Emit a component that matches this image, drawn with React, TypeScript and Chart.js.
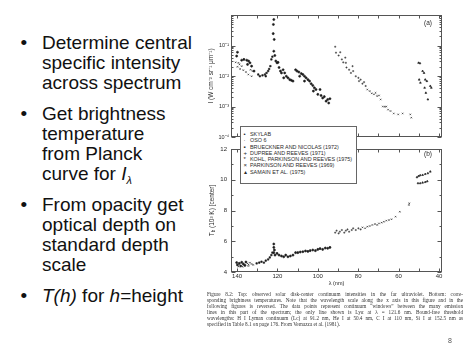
import React, { useEffect, useRef } from 'react';
import { Chart, registerables } from 'chart.js';

Chart.register(...registerables);

// ---------- axis ticks ----------
const xTicks = [140, 120, 100, 80, 60, 40];
const xMinorTicks = [130, 110, 90, 70, 50];
const topTicks = [1e-1, 1e-2, 1e-3, 1e-4];
const topTickLabels = ['10⁻¹', '10⁻²', '10⁻³', '10⁻⁴'];
const topDecades = [1e-4, 1e-3, 1e-2, 1e-1];
const bottomTicks = [4, 6, 8, 10, 12];
const bottomMinorTicks = [5, 7, 9, 11];

// ---------- series ----------
const seriesNames = [
  'SKYLAB',
  'OSO 6',
  'BRUECKNER AND NICOLAS (1972)',
  'DUPREE AND REEVES (1971)',
  'KOHL, PARKINSON AND REEVES (1975)',
  'PARKINSON AND REEVES (1969)',
  'SAMAIN ET AL. (1975)',
];
const legendMarks = ['•', '·', '▪', '+', '*', '×', '▴'];

// top panel: [wavelength nm, intensity W cm^-2 sr^-1 um^-1]
const skylabTop = [
  [139.8, 0.06], [140.2, 0.045], [137.7, 0.033], [136.6, 0.035], [135.2, 0.033], [134.3, 0.031],
  [133.6, 0.027], [134.8, 0.024], [132.8, 0.021], [131.6, 0.0145], [121.8, 0.71], [122.0, 0.49],
  [122.1, 0.245], [121.6, 0.158], [121.8, 0.065], [121.3, 0.047], [120.8, 0.031], [120.2, 0.027],
  [119.7, 0.028], [119.2, 0.019], [118.5, 0.0145], [118.0, 0.0126], [117.2, 0.016], [116.4, 0.0126],
  [116.9, 0.0087], [115.6, 0.0098], [114.8, 0.0087], [113.9, 0.0076], [113.1, 0.0072], [112.3, 0.0068],
];
const oso6Top = [
  [111.0, 0.016], [110.3, 0.0145], [109.4, 0.0135], [108.2, 0.012], [107.4, 0.0112], [109.0, 0.0098],
  [106.6, 0.0098], [105.8, 0.0087], [104.9, 0.0076], [104.1, 0.0068], [106.6, 0.0068], [103.3, 0.0056],
  [102.5, 0.0049], [101.7, 0.0041], [100.9, 0.0036], [102.2, 0.0032], [100.0, 0.0025], [98.9, 0.0036],
  [98.4, 0.0023], [97.6, 0.0019], [96.8, 0.0021], [95.9, 0.0015], [95.1, 0.0017], [94.0, 0.0018], [94.6, 0.0013],
];
const brueTop = [
  [129.5, 0.0112], [128.7, 0.0098], [127.4, 0.0105], [126.2, 0.0112], [125.4, 0.0126], [124.6, 0.0145],
  [124.1, 0.017], [125.8, 0.0098], [123.5, 0.021], [123.0, 0.035], [122.5, 0.043],
];
const dupreeTop = [
  [91.4, 0.091], [91.0, 0.058], [89.7, 0.047], [88.9, 0.06], [88.1, 0.035], [87.4, 0.028], [86.4, 0.04],
  [86.1, 0.027], [85.8, 0.019], [84.5, 0.016], [83.6, 0.0126], [82.8, 0.021], [82.5, 0.0145], [81.2, 0.0098],
  [79.9, 0.0087], [79.6, 0.0068], [78.8, 0.0076], [77.9, 0.0056], [77.1, 0.0063], [76.3, 0.0047],
];
const kohlTop = [
  [140.7, 0.028], [139.3, 0.027], [138.8, 0.024], [137.7, 0.021], [139.8, 0.02], [138.5, 0.017],
  [136.9, 0.0155], [135.6, 0.0135], [133.3, 0.016], [132.3, 0.0145], [134.4, 0.0112], [132.8, 0.0098],
];
const parkinsonTop = [
  [75.5, 0.0036], [74.3, 0.0032], [73.3, 0.0027], [72.2, 0.0025], [71.4, 0.0028], [70.6, 0.0022],
  [69.7, 0.0023], [68.9, 0.0017], [67.8, 0.001], [66.8, 0.00098], [66.1, 0.001], [65.2, 0.00079],
  [64.0, 0.00071], [62.4, 0.00059], [60.2, 0.00055], [58.0, 0.00059], [54.2, 0.00055], [53.7, 0.00043],
];
const samainTop = [
  [50.1, 0.027], [49.4, 0.026], [49.8, 0.0076], [49.2, 0.006], [48.1, 0.0145], [47.4, 0.0126],
  [47.1, 0.0041], [46.8, 0.0076], [46.0, 0.0068], [46.5, 0.0028], [45.5, 0.0017], [44.3, 0.0047], [43.8, 0.0041],
];

// bottom panel: [wavelength nm, brightness temperature 10^3 K]
const skylabBottom = [
  [140.2, 4.61], [139.8, 4.46], [138.9, 4.56], [138.2, 4.39], [137.7, 4.63], [136.9, 4.52], [136.1, 4.43],
  [135.6, 4.65], [121.8, 5.82], [121.8, 5.6], [121.5, 5.43], [121.8, 5.26], [121.2, 5.1], [120.2, 5.21],
  [119.2, 5.1], [118.0, 5.04], [116.9, 4.99], [115.9, 5.1], [114.8, 4.99], [113.6, 5.04], [112.3, 5.1],
];
const oso6Bottom = [
  [111.0, 5.26], [109.9, 5.26], [108.7, 5.3], [107.4, 5.32], [106.1, 5.37], [104.9, 5.34], [103.8, 5.39],
  [102.5, 5.43], [101.2, 5.39], [100.0, 5.47], [98.9, 5.52], [97.6, 5.47], [96.3, 5.56], [95.1, 5.54], [94.0, 5.6],
];
const brueBottom = [
  [130.3, 4.56], [129.0, 4.61], [127.9, 4.67], [126.7, 4.61], [125.8, 4.74], [124.6, 4.82], [123.8, 4.95],
  [123.0, 5.1], [122.5, 5.26],
];
const dupreeBottom = [
  [91.4, 6.56], [90.7, 6.69], [89.7, 6.51], [89.1, 6.62], [88.1, 6.73], [86.9, 6.56], [86.1, 6.69],
  [85.3, 6.77], [84.5, 6.62], [83.2, 6.73], [82.5, 6.84], [81.2, 6.73], [79.9, 6.84], [78.8, 6.77],
];
const kohlBottom = [
  [134.9, 4.56], [134.3, 4.48], [133.6, 4.61], [132.8, 4.52], [139.3, 4.35], [137.2, 4.35], [134.4, 4.39], [132.0, 4.46],
];
const parkinsonBottom = [
  [77.9, 6.9], [76.6, 6.84], [75.5, 6.95], [74.3, 6.99], [73.0, 7.06], [71.7, 7.12], [70.6, 7.06],
  [69.7, 7.16], [68.4, 7.21], [67.3, 7.27], [66.1, 7.34], [64.8, 7.38], [63.5, 7.43], [61.5, 7.6],
  [59.4, 7.92], [54.9, 8.36], [54.7, 8.47],
];
const samainBottom = [
  [50.9, 10.16], [50.1, 10.24], [49.3, 10.29], [48.1, 10.31], [46.8, 10.37], [45.5, 10.42], [44.3, 10.53],
  [50.4, 9.77], [49.3, 9.77], [48.1, 9.81], [46.8, 9.85], [45.8, 9.9],
];

const topSeries = [skylabTop, oso6Top, brueTop, dupreeTop, kohlTop, parkinsonTop, samainTop];
const bottomSeries = [skylabBottom, oso6Bottom, brueBottom, dupreeBottom, kohlBottom, parkinsonBottom, samainBottom];
const pointStyles = ['circle', 'circle', 'rect', 'cross', 'crossRot', 'crossRot', 'triangle'];

const captionLines = [
  'Figure 8.2: Top: observed solar disk-center continuum intensities in the far ultraviolet. Bottom: corre-',
  'sponding brightness temperatures. Note that the wavelength scale along the x axis in this figure and in the',
  'following figures is reversed. The data points represent continuum “windows” between the many emission',
  'lines in this part of the spectrum; the only line shown is Lyα at λ = 121.6 nm. Bound-free threshold',
  'wavelengths: H I Lyman continuum (Lc) at 91.2 nm, He I at 50.4 nm, C I at 110 nm, Si I at 152.5 nm as',
  'specified in Table 8.1 on page 176. From Vernazza et al. (1981).',
];

const SANS = '"Liberation Sans", Arial, Helvetica, sans-serif';
const INK = '#2a2a2a';
const X_MIN = 38.5;
const X_MAX = 143;

function makeFramePlugin(yMarks: [number, number][], label: string, labelDy: number) {
  return {
    id: 'frameTicks',
    afterDraw(chart: any) {
      const { ctx, chartArea: a, scales } = chart;
      ctx.save();
      ctx.strokeStyle = '#555';
      ctx.lineWidth = 1;
      const l = Math.round(a.left) + 0.5;
      const t = Math.round(a.top) + 0.5;
      const r = Math.round(a.right) - 0.5;
      const b = Math.round(a.bottom) - 0.5;
      ctx.strokeRect(l, t, r - l, b - t);
      ctx.beginPath();
      for (const v of [...xTicks, ...xMinorTicks]) {
        const px = Math.round(scales.x.getPixelForValue(v)) + 0.5;
        ctx.moveTo(px, t); ctx.lineTo(px, t + 3);
        ctx.moveTo(px, b); ctx.lineTo(px, b - 3);
      }
      for (const [v, len] of yMarks) {
        const py = Math.round(scales.y.getPixelForValue(v)) + 0.5;
        ctx.moveTo(l, py); ctx.lineTo(l + len, py);
        ctx.moveTo(r, py); ctx.lineTo(r - len, py);
      }
      ctx.stroke();
      ctx.fillStyle = INK;
      ctx.font = `6.5px ${SANS}`;
      ctx.textAlign = 'center';
      ctx.textBaseline = 'middle';
      ctx.fillText(label, a.right - 14, a.top + labelDy);
      ctx.restore();
    },
  };
}

const tbTitlePlugin = {
  id: 'tbTitle',
  afterDraw(chart: any) {
    const { ctx, chartArea: a } = chart;
    const big = `6.5px ${SANS}`;
    const small = `4.6px ${SANS}`;
    const rest = ' (10³ K) [center]';
    ctx.save();
    ctx.fillStyle = INK;
    ctx.translate(12, (a.top + a.bottom) / 2);
    ctx.rotate(-Math.PI / 2);
    ctx.textBaseline = 'middle';
    ctx.textAlign = 'left';
    ctx.font = big;
    const w1 = ctx.measureText('T').width;
    const w3 = ctx.measureText(rest).width;
    ctx.font = small;
    const w2 = ctx.measureText('b').width;
    let x = -(w1 + w2 + w3) / 2;
    ctx.font = big;
    ctx.fillText('T', x, 0);
    x += w1;
    ctx.font = small;
    ctx.fillText('b', x, 1.8);
    x += w2;
    ctx.font = big;
    ctx.fillText(rest, x, 0);
    ctx.restore();
  },
};

function buildDatasets(series: number[][][]) {
  return series.map((s, i) => ({
    label: seriesNames[i],
    data: s.map(([x, y]) => ({ x, y })),
    pointStyle: pointStyles[i],
    pointRadius: 1.05,
    pointHoverRadius: 1.05,
    backgroundColor: '#1a1a1a',
    borderColor: '#1a1a1a',
    borderWidth: 0.6,
  }));
}

function TopPanel() {
  const ref = useRef<HTMLCanvasElement>(null);
  useEffect(() => {
    if (!ref.current) return;
    const yMarks: [number, number][] = [[1, 4]];
    for (const d of topDecades) {
      yMarks.push([d, 4]);
      for (let k = 2; k <= 9; k++) yMarks.push([k * d, 2]);
    }
    const chart = new Chart(ref.current, {
      type: 'scatter',
      data: { datasets: buildDatasets(topSeries) as any },
      options: {
        responsive: false,
        animation: false,
        devicePixelRatio: 1,
        layout: { padding: { top: 10, right: 32, bottom: 8, left: 0 } },
        plugins: { legend: { display: false }, tooltip: { enabled: false } },
        scales: {
          x: { type: 'linear', display: false, min: X_MIN, max: X_MAX, reverse: true },
          y: {
            type: 'logarithmic',
            min: 1e-4,
            max: 1,
            afterFit: (s: any) => { s.width = 31; },
            afterBuildTicks: (s: any) => { s.ticks = topTicks.map((v) => ({ value: v })); },
            ticks: {
              autoSkip: false,
              padding: 2,
              color: INK,
              font: { size: 5.5, family: SANS },
              callback: (v: any) => {
                const i = topTicks.findIndex((t) => Math.abs(t - Number(v)) < t * 1e-6);
                return i >= 0 ? topTickLabels[i] : '';
              },
            },
            grid: { display: false, drawTicks: false },
            border: { display: false },
            title: {
              display: true,
              text: 'I (W cm⁻² sr⁻¹ μm⁻¹)',
              color: INK,
              font: { size: 6.5, family: SANS },
              padding: { top: 7, bottom: 0 },
            },
          },
        },
      },
      plugins: [makeFramePlugin(yMarks, '(a)', 8)],
    });
    return () => chart.destroy();
  }, []);
  return (
    <canvas
      ref={ref}
      width={274}
      height={140}
      style={{ position: 'absolute', left: 200, top: 5, width: 274, height: 140 }}
    />
  );
}

function BottomPanel() {
  const ref = useRef<HTMLCanvasElement>(null);
  useEffect(() => {
    if (!ref.current) return;
    const yMarks: [number, number][] = [
      ...bottomTicks.map((v) => [v, 4] as [number, number]),
      ...bottomMinorTicks.map((v) => [v, 2] as [number, number]),
    ];
    const chart = new Chart(ref.current, {
      type: 'scatter',
      data: { datasets: buildDatasets(bottomSeries) as any },
      options: {
        responsive: false,
        animation: false,
        devicePixelRatio: 1,
        layout: { padding: { top: 9, right: 32, bottom: 5, left: 0 } },
        plugins: { legend: { display: false }, tooltip: { enabled: false } },
        scales: {
          x: {
            type: 'linear',
            min: X_MIN,
            max: X_MAX,
            reverse: true,
            afterFit: (s: any) => { s.height = 15; },
            afterBuildTicks: (s: any) => { s.ticks = xTicks.map((v) => ({ value: v })); },
            ticks: {
              autoSkip: false,
              maxRotation: 0,
              padding: 1,
              color: INK,
              font: { size: 6, family: SANS },
              callback: (v: any) => String(v),
            },
            grid: { display: false, drawTicks: false },
            border: { display: false },
            title: {
              display: true,
              text: 'λ (nm)',
              color: INK,
              font: { size: 5.5, family: SANS },
              padding: { top: 0, bottom: 0 },
            },
          },
          y: {
            type: 'linear',
            min: 4,
            max: 12,
            afterFit: (s: any) => { s.width = 31; },
            afterBuildTicks: (s: any) => { s.ticks = bottomTicks.map((v) => ({ value: v })); },
            ticks: {
              autoSkip: false,
              padding: 4,
              color: INK,
              font: { size: 6, family: SANS },
              callback: (v: any) => String(v),
            },
            grid: { display: false, drawTicks: false },
            border: { display: false },
          },
        },
      },
      plugins: [makeFramePlugin(yMarks, '(b)', 5.5), tbTitlePlugin],
    });
    return () => chart.destroy();
  }, []);
  return (
    <canvas
      ref={ref}
      width={274}
      height={152}
      style={{ position: 'absolute', left: 200, top: 140, width: 274, height: 152 }}
    />
  );
}

const bulletTops = [33, 104, 195, 286];

function Bullets() {
  const items = [
    <>Determine central<br />specific intensity<br />across spectrum</>,
    <>Get brightness<br />temperature<br />from Planck<br />curve for <i>I</i><span style={{ fontSize: 11, position: 'relative', top: 4, fontStyle: 'italic' }}>λ</span></>,
    <>From opacity get<br />optical depth on<br />standard depth<br />scale</>,
    <><i>T(h)</i> for <i>h</i>=height</>,
  ];
  return (
    <>
      {items.map((content, i) => (
        <div
          key={i}
          style={{
            position: 'absolute',
            left: 0,
            top: bulletTops[i],
            fontFamily: SANS,
            fontSize: 19,
            lineHeight: '20px',
            color: '#111',
            whiteSpace: 'nowrap',
          }}
        >
          <span style={{ position: 'absolute', left: 20.5, top: 0 }}>•</span>
          <div style={{ position: 'absolute', left: 42, top: 0 }}>{content}</div>
        </div>
      ))}
    </>
  );
}

function Legend() {
  return (
    <div
      style={{
        position: 'absolute',
        left: 240,
        top: 126,
        width: 115,
        height: 52,
        border: '1px solid #666',
        background: '#fff',
        zIndex: 5,
        paddingTop: 4,
        boxSizing: 'content-box',
        fontFamily: SANS,
        fontSize: 5.4,
        color: INK,
      }}
    >
      {seriesNames.map((name, i) => (
        <div key={i} style={{ position: 'relative', height: 6.3, lineHeight: '6.3px', whiteSpace: 'nowrap' }}>
          <span style={{ position: 'absolute', left: 2.5, fontSize: 6 }}>{legendMarks[i]}</span>
          <span style={{ position: 'absolute', left: 9 }}>{name}</span>
        </div>
      ))}
    </div>
  );
}

function Caption() {
  return (
    <div style={{ position: 'absolute', left: 207, top: 291, width: 256 }}>
      {captionLines.map((line, i) => (
        <div
          key={i}
          style={{
            fontFamily: '"Liberation Serif", "DejaVu Serif", serif',
            fontSize: 5.2,
            lineHeight: '6.1px',
            height: 6.1,
            overflow: 'hidden',
            color: '#333',
            textAlign: 'justify',
            textAlignLast: i < captionLines.length - 1 ? 'justify' : 'left',
          }}
        >
          {line}
        </div>
      ))}
    </div>
  );
}

export default function App() {
  return (
    <div
      style={{
        position: 'absolute',
        left: 0,
        top: 0,
        width: 474,
        height: 355,
        background: '#fff',
        overflow: 'hidden',
      }}
    >
      <Bullets />
      <TopPanel />
      <BottomPanel />
      <Legend />
      <Caption />
      <div style={{ position: 'absolute', left: 448, top: 337, fontFamily: SANS, fontSize: 7, color: '#555' }}>8</div>
    </div>
  );
}
